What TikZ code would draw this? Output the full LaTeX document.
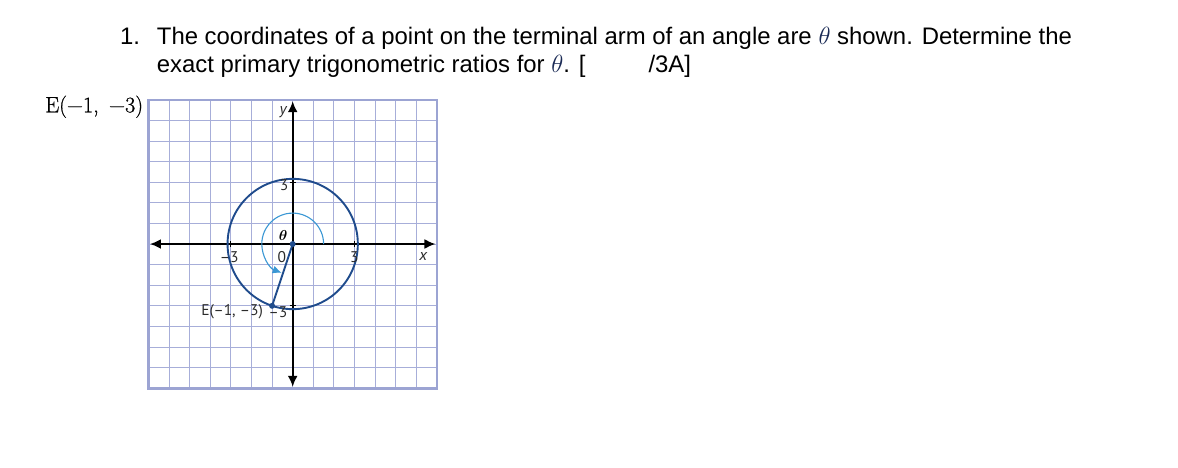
\documentclass[tikz,border=0pt]{standalone}
\usepackage{bm}
\usepackage{fontspec}
\setmainfont{Liberation Sans}
\newfontfamily\lblfont{PT Sans}
\newfontfamily\lmfont[FakeBold=0.7]{Latin Modern Roman}
\usetikzlibrary{arrows.meta}
\definecolor{gridc}{HTML}{A7AED9}
\definecolor{framec}{HTML}{9CA4D3}
\definecolor{circc}{HTML}{1F4B8C}
\definecolor{arcc}{HTML}{3A97D4}
\definecolor{lblc}{HTML}{2B2B2B}
\definecolor{thetac}{HTML}{1A2A55}
\tikzset{
  headtext/.style={anchor=base west, inner sep=0pt, font=\fontsize{23.9}{27}\selectfont},
  axislbl/.style={font=\lblfont\fontsize{15.5}{17}\selectfont, text=lblc, inner sep=0pt},
  axisline/.style={line width=1.9pt, black, {Latex[length=11pt,width=10pt]}-{Latex[length=11pt,width=10pt]}},
  tickmark/.style={line width=1pt, black},
  dotc/.style={circle, fill=circc, inner sep=0pt, minimum size=6pt}
}
\begin{document}
\begin{tikzpicture}[x=1pt,y=-1pt]
\useasboundingbox (0,0) rectangle (1178,467);
% header text
\node[headtext] (num) at (120,44.5) {1.};
\node[headtext] (l1) at (156.7,44.5) {The coordinates of a point on the terminal arm of an angle are \textcolor{thetac}{$\theta$} shown. Determine the};
\node[headtext] (l2) at (156.7,72) {exact primary trigonometric ratios for \textcolor{thetac}{$\theta$}. [\hspace{63pt}/3A]};
\node[anchor=base west, inner sep=0pt, font=\lmfont\fontsize{22.2}{25}\selectfont] (elbl) at (45,112.3) {E(−1, \,−3)};
% graph
\begin{scope}[shift={(292.7,244)}, x=20.6pt, y=20.6pt]
  \draw[gridc, line width=0.9pt, step={(1,1)}] (-7,-7) grid (7,7);
  \draw[framec, line width=2.6pt] (-7,-7) rectangle (7,7);
  \coordinate (O) at (0,0);
  \coordinate (xl) at (-6.93,0);
  \coordinate (xr) at (6.93,0);
  \coordinate (yb) at (0,-6.93);
  \coordinate (yt) at (0,6.93);
  \draw[axisline] (xl) -- (xr);
  \draw[axisline] (yb) -- (yt);
  \foreach \t in {-3,3} {
    \draw[tickmark] (\t,-0.15) -- (\t,0.15);
    \draw[tickmark] (-0.15,\t) -- (0.15,\t);
  }
  \draw[circc, line width=1.9pt] (O) circle ({sqrt(10)});
  \draw[arcc, line width=1.1pt, -{Latex[length=9pt,width=8pt]}] (1.5,0) arc[start angle=0, end angle=249, radius=1.5];
  \coordinate (E) at (-1,-3);
  \draw[circc, line width=1.9pt] (O) -- (E);
  \node[dotc] (Od) at (O) {};
  \node[dotc] (Ed) at (E) {};
  \node[axislbl, font=\lblfont\itshape\fontsize{16}{18}\selectfont] (xlab) at (6.34,-0.62) {x};
  \node[axislbl, font=\lblfont\itshape\fontsize{16}{18}\selectfont] (ylab) at (-0.46,6.42) {y};
  \node[axislbl, text=black, font=\fontsize{15}{17}\selectfont] (th) at (-0.46,0.42) {$\bm{\theta}$};
  \node[axislbl] (zero) at (-0.53,-0.62) {0};
  \node[axislbl] (mxa) at (-3.08,-0.62) {–3};
  \node[axislbl] (pxa) at (2.99,-0.62) {3};
  \node[axislbl, anchor=east] (pya) at (-0.2,2.85) {3};
  \node[axislbl, anchor=east] (mya) at (-0.25,-3.29) {–3};
  \node[axislbl] (elab) at (-2.94,-3.29) {E(–1, –3)};
\end{scope}
\end{tikzpicture}
\end{document}
